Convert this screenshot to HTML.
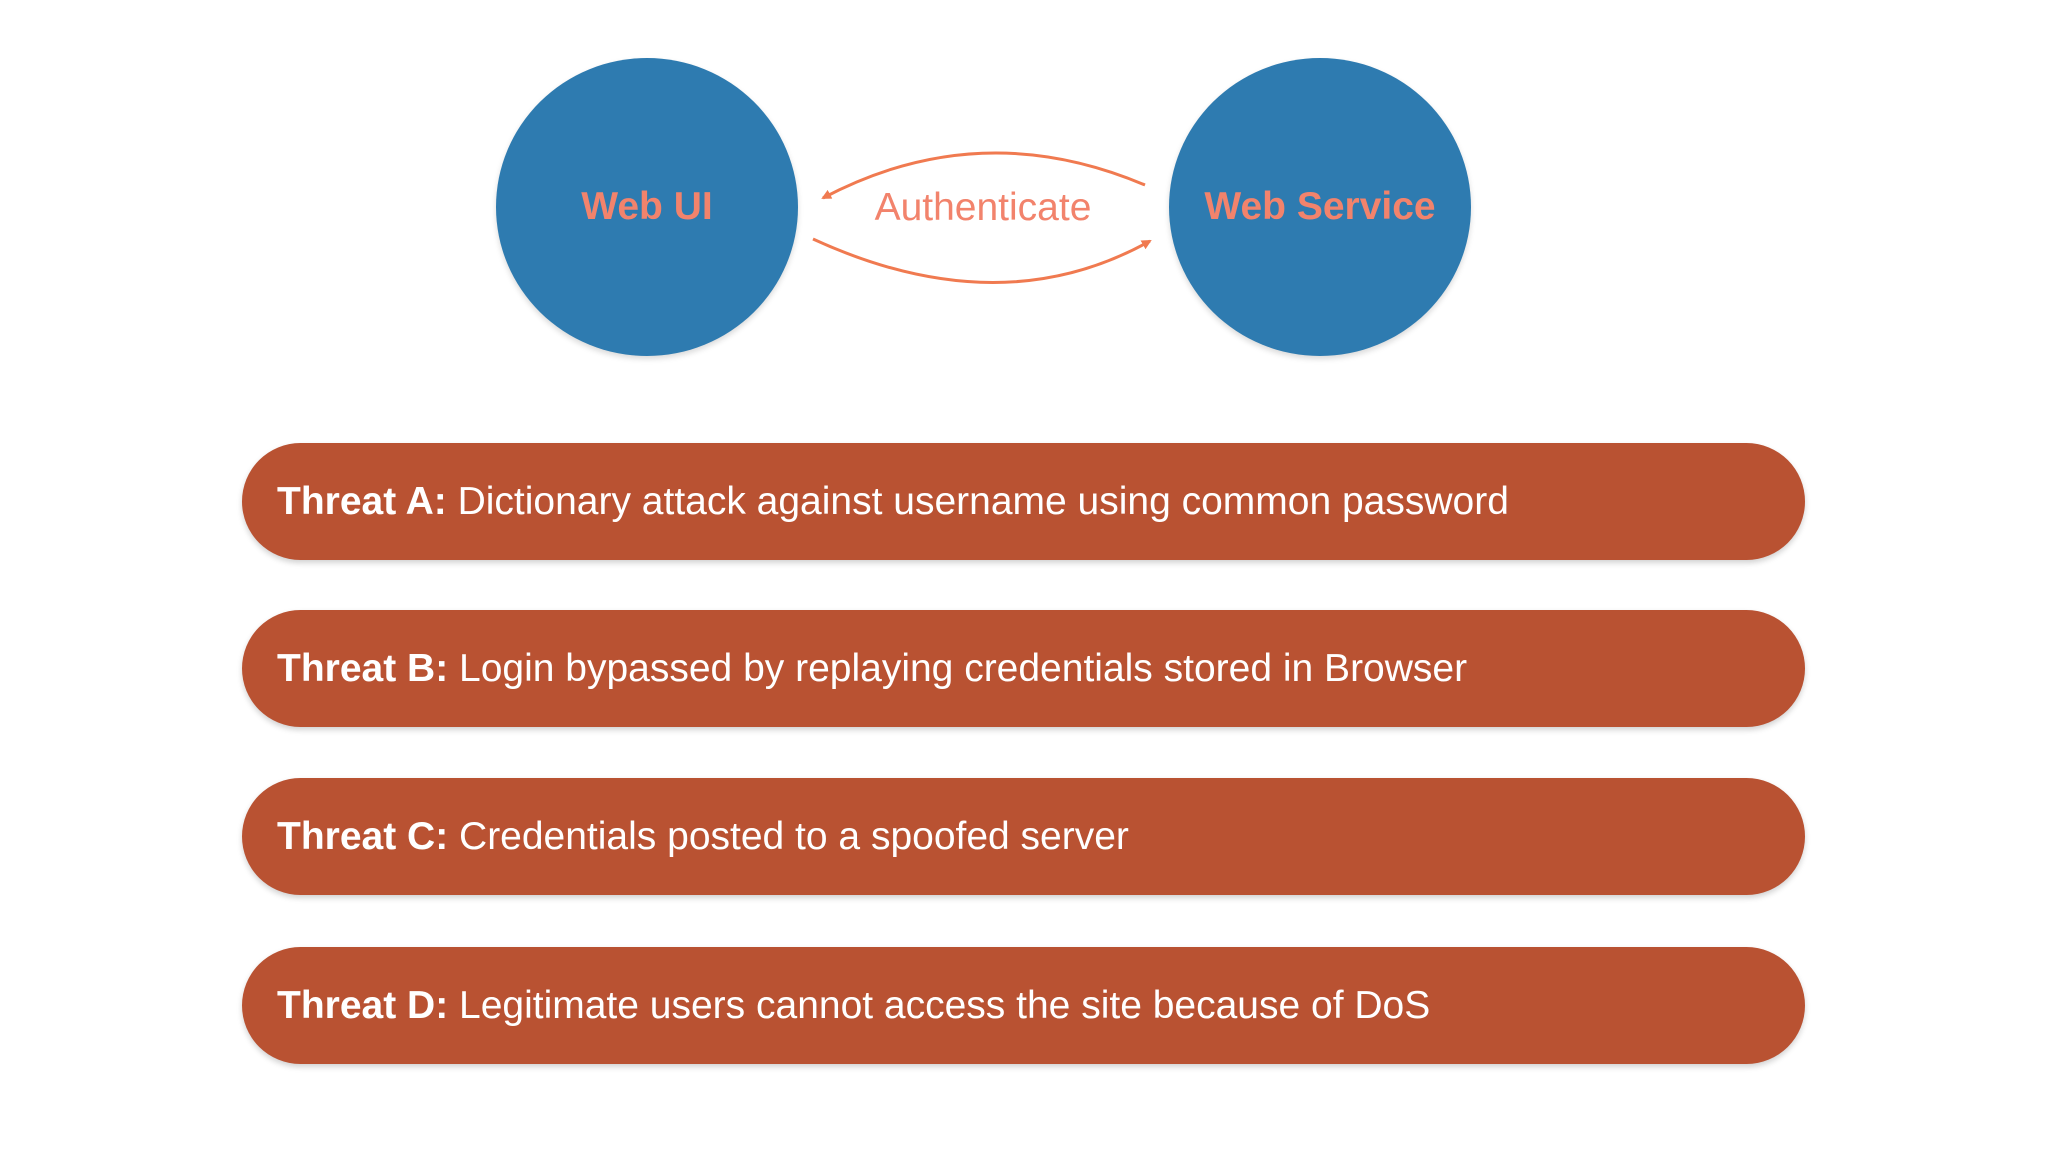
<!DOCTYPE html>
<html><head><style>
body{margin:0;width:2048px;height:1152px;background:#fff;position:relative;overflow:hidden;font-family:"Liberation Sans",sans-serif}
.c{position:absolute;width:302px;height:298px;border-radius:50%;background:#2e7bb0;box-shadow:0 3px 6px rgba(0,0,0,.15);display:flex;align-items:center;justify-content:center;color:#f2836c;font-weight:bold;font-size:39px}
.p{position:absolute;left:242px;width:1563px;height:117px;border-radius:59px;background:#b95232;box-shadow:0 3px 6px rgba(0,0,0,.18);color:#fff;font-size:39px;line-height:117px;padding-left:35px;box-sizing:border-box;white-space:nowrap}
.p b{font-weight:bold}
</style></head><body>
<div class="c" style="left:496px;top:58px">Web UI</div>
<div class="c" style="left:1169px;top:58px">Web Service</div>
<svg style="position:absolute;left:0;top:0" width="2048" height="1152">
<defs><marker id="a" markerWidth="10" markerHeight="10" refX="8" refY="5" orient="auto" markerUnits="userSpaceOnUse"><path d="M0,0 L10,5 L0,10 z" fill="#f07a50"/></marker></defs>
<path d="M1145,185 Q980,115 823,198" fill="none" stroke="#f07a50" stroke-width="3" marker-end="url(#a)"/>
<path d="M813,239 Q1000,325 1150,241" fill="none" stroke="#f07a50" stroke-width="3" marker-end="url(#a)"/>
<text x="983" y="220" text-anchor="middle" font-size="39" fill="#f2836c" font-family="Liberation Sans">Authenticate</text>
</svg>
<div class="p" style="top:443px"><b>Threat A:</b> Dictionary attack against username using common password</div>
<div class="p" style="top:610px"><b>Threat B:</b> Login bypassed by replaying credentials stored in Browser</div>
<div class="p" style="top:778px"><b>Threat C:</b> Credentials posted to a spoofed server</div>
<div class="p" style="top:947px"><b>Threat D:</b> Legitimate users cannot access the site because of DoS</div>
</body></html>
